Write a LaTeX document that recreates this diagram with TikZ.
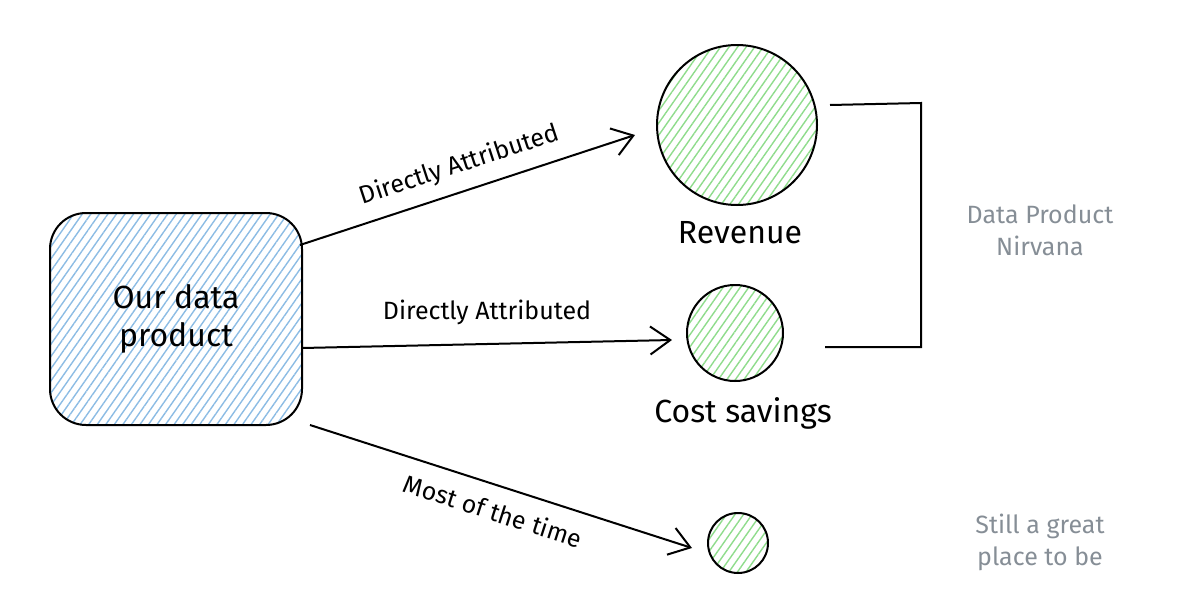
\documentclass[tikz,border=0pt]{standalone}
\usepackage{fontspec}
\setmainfont{Fira Sans}
\usetikzlibrary{patterns.meta,arrows.meta}
\definecolor{bluef}{HTML}{8CBCE4}
\definecolor{greenf}{HTML}{8FDC8C}
\definecolor{grayt}{HTML}{868E96}
\tikzset{
 hatchblue/.style={pattern={Lines[angle=55,distance=3.5pt,line width=0.7pt]},pattern color=bluef},
 hatchgreen/.style={pattern={Lines[angle=55,distance=3.5pt,line width=0.7pt]},pattern color=greenf},
 conn/.style={draw=black,line width=1pt,-{Straight Barb[length=10pt,width=14pt]}},
 lbl/.style={font=\fontsize{12.5}{14}\selectfont},
 big/.style={font=\fontsize{16}{19}\selectfont,align=center},
 note/.style={font=\fontsize{12.5}{16}\selectfont,text=grayt,align=center}
}
\begin{document}
\begin{tikzpicture}[x=0.5pt,y=-0.5pt]
\useasboundingbox (0,0) rectangle (1200,600);
\node[draw,line width=1pt,rounded corners=18pt,minimum width=126pt,minimum height=106pt,hatchblue,big] (box) at (176,319) {Our data\\product};
\node[circle,draw,line width=1pt,minimum size=80pt,hatchgreen] (rev) at (737,125) {};
\node[circle,draw,line width=1pt,minimum size=48pt,hatchgreen] (cost) at (735,333) {};
\node[circle,draw,line width=1pt,minimum size=30pt,hatchgreen] (small) at (738,543) {};
\node[big] (revl) at (740,233) {Revenue};
\node[big] (costl) at (743,413) {Cost savings};
\coordinate (a1) at (635,135);
\coordinate (a2) at (672,340);
\coordinate (a3) at (692,548);
\coordinate (s1) at (300,245);
\draw[conn] (s1) -- (a1) node[lbl,midway,sloped,above=3pt] {Directly Attributed};
\coordinate (s2) at (302,348);
\draw[conn] (s2) -- (a2) node[lbl,midway,above=6pt] {Directly Attributed};
\coordinate (s3) at (310,425);
\draw[conn] (s3) -- (a3) node[lbl,midway,sloped,below=4pt] {Most of the time};
\coordinate (b1) at (830,105);
\coordinate (b2) at (921,103);
\coordinate (b3) at (921,347);
\coordinate (b4) at (825,347);
\draw[line width=1pt] (b1) -- (b2) -- (b3) -- (b4);
\node[note] (nirv) at (1040,230) {Data Product\\Nirvana};
\node[note] (still) at (1040,542) {Still a great\\place to be};
\end{tikzpicture}
\end{document}
